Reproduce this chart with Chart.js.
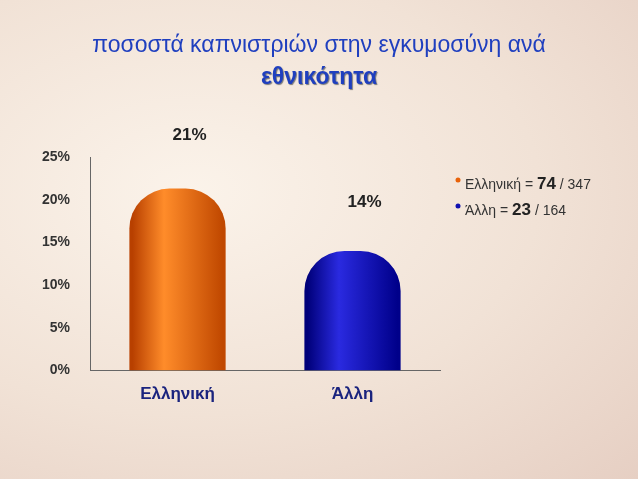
<!DOCTYPE html>
<html><head><meta charset="utf-8">
<script src="https://cdn.jsdelivr.net/npm/chart.js@4/dist/chart.umd.min.js"></script>
<style>
body{margin:0;width:638px;height:479px;overflow:hidden;font-family:"Liberation Sans",Arial,sans-serif;
background:radial-gradient(ellipse at 30% 40%,#fbf3ea 0%,#f1e2d6 55%,#e6cfc3 100%);}
#t{position:absolute;left:0;top:28px;width:638px;text-align:center;color:#1f3fbf;font-size:23px;line-height:32px;z-index:2}
#t b{text-shadow:1px 1px 1px #777;}
#c{position:absolute;left:0;top:0;}
</style></head><body>
<canvas id="c" width="638" height="479"></canvas>
<div id="t">ποσοστά καπνιστριών στην εγκυμοσύνη ανά<br><b>εθνικότητα</b></div>
<script>
const categories=["Ελληνική","Άλλη"];
const values=[21.3,14.0];
const valueLabels=["21%","14%"];
const counts=[74,23];
const totals=[347,164];
const colors=["#e8620a","#1010b0"];
const ctx=document.getElementById('c').getContext('2d');
const plug={id:'p',afterDatasetsDraw(ch){
 const c=ch.ctx,m=ch.getDatasetMeta(0);
 c.save();c.fillStyle='#222';c.font='bold 17px "Liberation Sans",Arial';c.textAlign='center';
 m.data.forEach((b,i)=>c.fillText(valueLabels[i],b.x+12,i==0?140:207));
 c.textAlign='left';c.font='14px "Liberation Sans",Arial';
 categories.forEach((n,i)=>{const y=189+i*26;
  c.fillStyle=colors[i];c.beginPath();c.arc(458,y-9,2.5,0,7);c.fill();
  c.fillStyle='#333';let x=465;const p1=n+' = ';c.fillText(p1,x,y);x+=c.measureText(p1).width;
  c.font='bold 17px "Liberation Sans",Arial';c.fillStyle='#222';c.fillText(String(counts[i]),x,y);x+=c.measureText(String(counts[i])).width;
  c.font='14px "Liberation Sans",Arial';c.fillStyle='#333';c.fillText(' / '+totals[i],x,y);});
 c.restore();}};
new Chart(ctx,{type:'bar',data:{labels:categories,datasets:[{data:values,
 backgroundColor:(cx)=>{const ch=cx.chart;if(!ch.chartArea||!ch.scales.x)return colors[cx.dataIndex];
  const x=ch.scales.x.getPixelForValue(cx.dataIndex);if(!isFinite(x))return colors[cx.dataIndex];
  const g=ch.ctx.createLinearGradient(x-45,0,x+45,0);
  if(cx.dataIndex==0){g.addColorStop(0,'#b84000');g.addColorStop(0.35,'#ff8c2a');g.addColorStop(1,'#c04800');}
  else{g.addColorStop(0,'#00007a');g.addColorStop(0.35,'#2a2ae0');g.addColorStop(1,'#00008a');}return g;},
 borderRadius:{topLeft:40,topRight:40,bottomLeft:0,bottomRight:0},borderSkipped:false,
 barPercentage:0.55,categoryPercentage:1}]},
 options:{responsive:false,animation:false,devicePixelRatio:1,
 layout:{padding:{left:30,right:198,top:157,bottom:68}},
 plugins:{legend:{display:false},tooltip:{enabled:false}},
 scales:{y:{min:0,max:25,ticks:{stepSize:5,callback:v=>v+'%',color:'#333',font:{size:14,weight:'bold',family:'"Liberation Sans",Arial'},padding:12},
  grid:{display:false},border:{color:'#666'}},
  x:{ticks:{color:'#1a237e',font:{size:17,weight:'bold',family:'"Liberation Sans",Arial'},padding:6},grid:{display:false},border:{color:'#666'}}}},
 plugins:[plug]});
</script></body></html>
